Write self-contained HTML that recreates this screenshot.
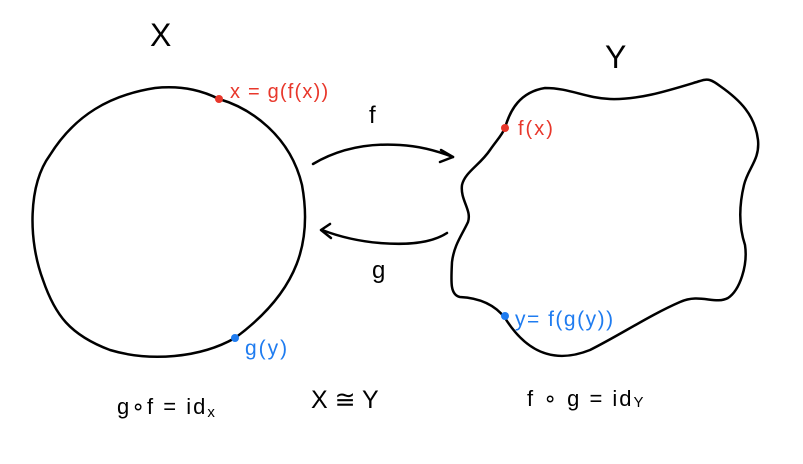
<!DOCTYPE html>
<html><head><style>
html,body{margin:0;padding:0;background:#fff;}
svg{display:block;}
text{font-family:"Liberation Sans",sans-serif;}
</style></head><body>
<svg width="803" height="464" viewBox="0 0 803 464" xmlns="http://www.w3.org/2000/svg">
<g fill="none" stroke="#000" stroke-width="2.5" stroke-linecap="round" stroke-linejoin="round">
<path d="M219,99 C250,108 290,135 302,185 C312,240 300,290 235,338 C200,358 150,362 110,350 C70,335 55,315 43,280 C28,240 28,185 50,155 C75,115 110,95 155,88 C185,85 205,92 219,99 Z"/>
<path d="M505,128 C510,110 520,92 545,88 C570,88 585,98 610,99 C640,100 670,90 700,81 C708,78 712,80 720,86 C740,100 755,115 758,140 C760,160 748,168 744,185 C738,210 740,230 745,245 C748,265 740,290 728,298 C715,305 700,293 680,302 C650,315 620,335 590,350 C560,362 530,358 505,318 C495,305 480,298 460,297 C450,295 451,282 452,262 C454,245 462,235 468,222 C472,210 460,200 462,185 C465,172 480,165 490,150 C497,140 502,135 505,128 Z"/>
<path d="M313,164 C340,148 370,143 400,145 C420,146 440,152 453,157"/>
<path d="M441,150 L453,157 L440,162"/>
<path d="M447,233 C430,244 405,245 380,243 C355,241 335,235 322,230"/>
<path d="M330,224 L321,230 L331,238"/>
</g>
<circle cx="219" cy="99" r="4" fill="#e8372b"/>
<circle cx="505" cy="128" r="4" fill="#e8372b"/>
<circle cx="235" cy="338" r="4" fill="#1f7cf0"/>
<circle cx="505" cy="316" r="4" fill="#1f7cf0"/>
<text x="150" y="46" font-size="32">X</text>
<text x="605" y="68" font-size="32">Y</text>
<text x="369" y="123" font-size="24">f</text>
<text x="372" y="278" font-size="24">g</text>
<text x="230" y="98" font-size="20" letter-spacing="1.2" fill="#e8372b">x = g(f(x))</text>
<text x="518" y="135" font-size="20" letter-spacing="2" fill="#e8372b">f(x)</text>
<text x="245" y="355" font-size="21" letter-spacing="2" fill="#1f7cf0">g(y)</text>
<text x="515" y="326" font-size="21" letter-spacing="1.5" fill="#1f7cf0">y= f(g(y))</text>
<text x="117" y="414" font-size="22" letter-spacing="2">g∘f = id<tspan font-size="15" dy="3">x</tspan></text>
<text x="311" y="408" font-size="25">X ≅ Y</text>
<text x="527" y="406" font-size="22" letter-spacing="2">f ∘ g = id<tspan font-size="15" dy="1">Y</tspan></text>
</svg>
</body></html>
